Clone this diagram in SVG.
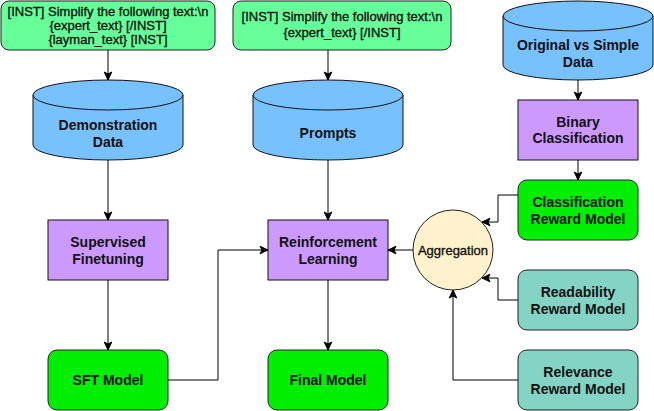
<svg xmlns="http://www.w3.org/2000/svg" width="654" height="411" viewBox="0 0 654 411">
<defs>
<marker id="arr" markerUnits="userSpaceOnUse" markerWidth="10" markerHeight="10" viewBox="0 0 10 10" refX="9" refY="5" orient="auto">
<path d="M1,1.2 L9,5 L1,8.8 L3,5 Z" fill="#000" stroke="#000" stroke-width="1"/>
</marker>
</defs>
<style>
text{font-family:"Liberation Sans",Arial,sans-serif;font-weight:bold;fill:#111;text-anchor:middle}
.t14{font-size:14px}
.t13{font-size:13px;font-weight:normal;stroke:#111;stroke-width:0.35}
.prompt{fill:#66FF99;stroke:#222;stroke-width:1}
.cyl{fill:#78C1FF;stroke:#111;stroke-width:1}
.proc{fill:#CC99FF;stroke:#111;stroke-width:1}
.model{fill:#00EE00;stroke:#222;stroke-width:1}
.rm{fill:#84D4C6;stroke:#222;stroke-width:1}
.agg{fill:#FFF2CC;stroke:#222;stroke-width:1}
.edge{fill:none;stroke:#000;stroke-width:1;marker-end:url(#arr)}
</style>
<rect width="654" height="411" fill="#fff"/>

<g id="prompt-demo">
<rect class="prompt" x="1" y="1" width="214" height="49" rx="8"/>
<text class="t13" x="108" y="15.8">[INST] Simplify the following text:\n</text>
<text class="t13" x="108" y="30">{expert_text} [/INST]</text>
<text class="t13" x="108" y="44.3">{layman_text} [INST]</text>
</g>

<g id="prompt-rl">
<rect class="prompt" x="233" y="1" width="218" height="49" rx="8"/>
<text class="t13" x="342" y="21.4">[INST] Simplify the following text:\n</text>
<text class="t13" x="342" y="37.4">{expert_text} [/INST]</text>
</g>

<g id="demo-data">
<path class="cyl" d="M33,95 A75,15 0 0 1 183,95 L183,145 A75,15 0 0 1 33,145 Z"/>
<path class="cyl" d="M33,95 A75,15 0 0 0 183,95" fill="none"/>
<text class="t14" x="108" y="130">Demonstration</text>
<text class="t14" x="108" y="147">Data</text>
</g>

<g id="prompts">
<path class="cyl" d="M253,95 A75,15 0 0 1 403,95 L403,145 A75,15 0 0 1 253,145 Z"/>
<path class="cyl" d="M253,95 A75,15 0 0 0 403,95" fill="none"/>
<text class="t14" x="328" y="138">Prompts</text>
</g>

<g id="orig-simple-data">
<path class="cyl" d="M503,16 A75,15 0 0 1 653,16 L653,65 A75,15 0 0 1 503,65 Z"/>
<path class="cyl" d="M503,16 A75,15 0 0 0 653,16" fill="none"/>
<text class="t14" x="578" y="50">Original vs Simple</text>
<text class="t14" x="578" y="67">Data</text>
</g>

<g id="binary-classification">
<rect class="proc" x="518" y="100" width="120" height="60"/>
<text class="t14" x="578" y="126.8">Binary</text>
<text class="t14" x="578" y="143.4">Classification</text>
</g>

<g id="supervised-finetuning">
<rect class="proc" x="48" y="220" width="120" height="60"/>
<text class="t14" x="108" y="246.8">Supervised</text>
<text class="t14" x="108" y="263.6">Finetuning</text>
</g>

<g id="reinforcement-learning">
<rect class="proc" x="268" y="220" width="120" height="60"/>
<text class="t14" x="328" y="246.8">Reinforcement</text>
<text class="t14" x="328" y="263.6">Learning</text>
</g>

<g id="sft-model">
<rect class="model" x="48" y="350" width="120" height="60" rx="9"/>
<text class="t14" x="108" y="385">SFT Model</text>
</g>

<g id="final-model">
<rect class="model" x="268" y="350" width="120" height="60" rx="9"/>
<text class="t14" x="328" y="385">Final Model</text>
</g>

<g id="classification-rm">
<rect class="model" x="518" y="180" width="120" height="60" rx="9"/>
<text class="t14" x="578" y="206.8">Classification</text>
<text class="t14" x="578" y="223.6">Reward Model</text>
</g>

<g id="readability-rm">
<rect class="rm" x="518" y="270" width="120" height="60" rx="9"/>
<text class="t14" x="578" y="296.8">Readability</text>
<text class="t14" x="578" y="313.6">Reward Model</text>
</g>

<g id="relevance-rm">
<rect class="rm" x="518" y="350" width="120" height="60" rx="9"/>
<text class="t14" x="578" y="376.8">Relevance</text>
<text class="t14" x="578" y="393.6">Reward Model</text>
</g>

<g id="aggregation">
<circle class="agg" cx="453" cy="250" r="40"/>
<text class="t13" x="453" y="254.7">Aggregation</text>
</g>

<g id="connectors">
<path class="edge" d="M108,50 V80"/>
<path class="edge" d="M328,50 V80"/>
<path class="edge" d="M108,160 V220"/>
<path class="edge" d="M108,280 V350"/>
<path class="edge" d="M328,160 V220"/>
<path class="edge" d="M328,280 V350"/>
<path class="edge" d="M578,80 V100"/>
<path class="edge" d="M578,160 V180"/>
<path class="edge" d="M168,380 H218 V250 H268"/>
<path class="edge" d="M413,250 H388"/>
<path class="edge" d="M518,195 H498 V222 H482"/>
<path class="edge" d="M518,300 H498 V278 H482"/>
<path class="edge" d="M518,380 H453 V290"/>
</g>
</svg>
